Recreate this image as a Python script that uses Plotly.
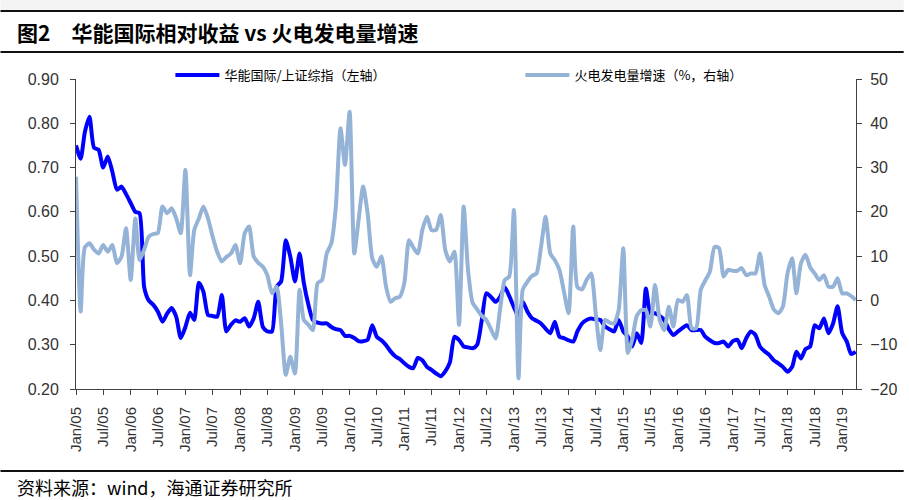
import pandas as pd
import plotly.graph_objects as go

# ---------------- data ----------------
start_month = "2005-01-01"
n_months = 172

hn_relative = [
    0.750, 0.720, 0.780, 0.815, 0.745, 0.740, 0.700, 0.725, 0.690, 0.650,
    0.657, 0.640, 0.620, 0.600, 0.597, 0.430, 0.400, 0.390, 0.375, 0.352,
    0.370, 0.383, 0.363, 0.315, 0.340, 0.372, 0.356, 0.440, 0.420, 0.367,
    0.365, 0.363, 0.412, 0.330, 0.345, 0.355, 0.352, 0.360, 0.341, 0.360,
    0.397, 0.340, 0.330, 0.330, 0.431, 0.443, 0.536, 0.499, 0.443, 0.506,
    0.440, 0.390, 0.356, 0.350, 0.348, 0.348, 0.340, 0.335, 0.333, 0.320,
    0.320, 0.315, 0.308, 0.308, 0.311, 0.344, 0.318, 0.310, 0.299, 0.285,
    0.274, 0.268, 0.258, 0.250, 0.247, 0.270, 0.265, 0.250, 0.243, 0.235,
    0.229, 0.240, 0.260, 0.318, 0.311, 0.296, 0.294, 0.292, 0.300, 0.356,
    0.416, 0.408, 0.397, 0.408, 0.430, 0.410, 0.385, 0.363, 0.397, 0.375,
    0.360, 0.354, 0.348, 0.336, 0.326, 0.352, 0.318, 0.315, 0.310, 0.307,
    0.330, 0.348, 0.356, 0.359, 0.357, 0.356, 0.341, 0.335, 0.330, 0.356,
    0.330, 0.318, 0.296, 0.326, 0.304, 0.427, 0.371, 0.371, 0.365, 0.356,
    0.335, 0.322, 0.330, 0.338, 0.344, 0.333, 0.333, 0.333, 0.318, 0.310,
    0.304, 0.304, 0.307, 0.296, 0.308, 0.311, 0.292, 0.315, 0.330, 0.322,
    0.296, 0.285, 0.277, 0.265, 0.258, 0.250, 0.239, 0.250, 0.284, 0.269,
    0.290, 0.296, 0.344, 0.337, 0.359, 0.326, 0.348, 0.387, 0.326, 0.307,
    0.279, 0.284,
]

thermal_growth = [
    27.9, -2.5, 12.0, 12.9, 11.5, 10.6, 12.5, 11.0, 12.5, 8.4,
    9.9, 16.3, 4.6, 18.5, 9.1, 11.5, 14.4, 15.0, 15.2, 21.2,
    19.7, 20.8, 18.5, 15.2, 29.5, 5.7, 15.9, 18.5, 21.2, 18.5,
    14.5, 11.0, 8.8, 9.8, 10.6, 12.5, 8.4, 15.2, 16.7, 9.9,
    8.5, 7.6, 5.7, 1.6, 3.1, -5.2, -16.8, -12.7, -16.5, 2.4,
    -4.4, -5.5, -6.7, 3.9, 4.6, 10.6, 12.9, 21.2, 38.9, 30.6,
    42.6, 10.6, 18.0, 25.7, 19.7, 9.5, 7.6, 9.9, 3.1, -0.3,
    0.5, 0.8, 3.9, 13.6, 12.0, 10.6, 15.9, 18.9, 15.9, 15.9,
    19.3, 11.4, 8.8, 11.0, -5.5, 21.2, 6.9, -0.6, -2.0, -3.5,
    -4.4, -6.5, -8.6, -2.0, 4.6, 5.4, 20.4, -17.6, 2.4, 4.2,
    5.5, 6.1, 12.0, 18.9, 10.6, 9.1, 6.9, 2.0, -2.9, 16.7,
    3.0, 2.5, 4.6, 6.1, -2.9, -11.2, -4.4, -5.0, -5.2, -2.2,
    11.8, -11.9, -8.9, -3.5, -2.2, -2.2, -5.9, 3.5, -4.4, -6.7,
    -1.4, -5.9, 0.1, -0.3, 1.2, -6.3, -6.3, 2.4, 4.5, 6.5,
    12.1, 11.8, 5.4, 6.9, 6.7, 6.7, 7.3, 5.7, 6.1, 6.1,
    10.6, 3.5, 0.8, -2.0, -2.9, -1.4, 6.1, 9.5, 1.6, 8.4,
    10.3, 7.5, 6.1, 4.6, 5.7, 3.1, 3.1, 5.0, 1.6, 1.6,
    1.0, 0.1,
]

months = pd.date_range(start_month, periods=n_months, freq="MS")

left_range = [0.2, 0.9]
right_range = [-20, 50]
x_range = ["2005-01-01", "2019-04-03"]

title_text = "图2\u3000华能国际相对收益 vs 火电发电量增速"
source_text = "资料来源：wind，海通证券研究所"
name_left = "华能国际/上证综指（左轴）"
name_right = "火电发电量增速（%，右轴）"

# ---------------- layout geometry (pixels) ----------------
W, H = 909, 500
ML, MR, MT, MB = 76, 48, 79, 111
PW = W - ML - MR
PH = H - MT - MB


def px_x(X):
    return (X - ML) / PW


def px_y(Y):
    return (H - MB - Y) / PH


CJK = "Noto Sans CJK SC"
NUM = "Liberation Sans, Arial"

fig = go.Figure()
fig.add_trace(go.Scatter(
    x=months, y=hn_relative, name=name_left, mode="lines",
    line=dict(color="#0000FF", width=4, shape="spline", smoothing=0.6),
    yaxis="y",
))
fig.add_trace(go.Scatter(
    x=months, y=thermal_growth, name=name_right, mode="lines",
    line=dict(color="#95B3D7", width=4, shape="spline", smoothing=0.6),
    yaxis="y2",
))

axis_color = "#404040"
fig.update_layout(
    width=W, height=H,
    margin=dict(l=ML, r=MR, t=MT, b=MB, pad=0),
    paper_bgcolor="white", plot_bgcolor="white",
    showlegend=True,
    legend=dict(
        orientation="h", x=px_x(171), y=px_y(75), xanchor="left", yanchor="middle",
        font=dict(family=CJK, size=13, color="#000000"),
        bgcolor="rgba(0,0,0,0)", itemwidth=44,
        entrywidth=291, entrywidthmode="pixels",
        traceorder="normal",
    ),
    xaxis=dict(
        type="date", range=x_range, tick0=start_month, dtick="M6",
        tickformat="%b/%y", tickangle=-90,
        showgrid=False, zeroline=False,
        showline=True, linecolor=axis_color, linewidth=1,
        ticks="outside", ticklen=5, tickcolor=axis_color,
        tickfont=dict(family=NUM, size=15, color="#333333"),
        ticklabelstandoff=6,
    ),
    yaxis=dict(
        range=left_range, dtick=0.1, tick0=0.2, tickformat=".2f",
        showgrid=False, zeroline=False,
        showline=True, linecolor=axis_color, linewidth=1,
        ticks="outside", ticklen=5, tickcolor=axis_color,
        tickfont=dict(family=NUM, size=16, color="#333333"),
        ticklabelstandoff=8,
    ),
    yaxis2=dict(
        range=right_range, dtick=10, tick0=-20, overlaying="y", side="right",
        showgrid=False, zeroline=False,
        showline=True, linecolor=axis_color, linewidth=1,
        ticks="outside", ticklen=5, tickcolor=axis_color,
        tickfont=dict(family=NUM, size=16, color="#333333"),
        ticklabelstandoff=5,
    ),
)

# header / footer rules
fig.add_shape(type="rect", xref="paper", yref="paper",
              x0=px_x(0), x1=px_x(W), y0=px_y(0), y1=px_y(10),
              fillcolor="#F4F4F4", line=dict(width=0), layer="below")
for Yl in (11, 52, 471):
    fig.add_shape(type="line", xref="paper", yref="paper",
                  x0=px_x(0), x1=px_x(W), y0=px_y(Yl), y1=px_y(Yl),
                  line=dict(color="#111111", width=2))

fig.add_annotation(text="<b>" + title_text + "</b>", xref="paper", yref="paper",
                   x=px_x(15), y=px_y(32), xanchor="left", yanchor="middle",
                   showarrow=False, font=dict(family=CJK, size=21, color="#000000"))
fig.add_annotation(text=source_text, xref="paper", yref="paper",
                   x=px_x(15), y=px_y(487), xanchor="left", yanchor="middle",
                   showarrow=False, font=dict(family=CJK, size=18, color="#000000"))

fig.write_html("out.html")
